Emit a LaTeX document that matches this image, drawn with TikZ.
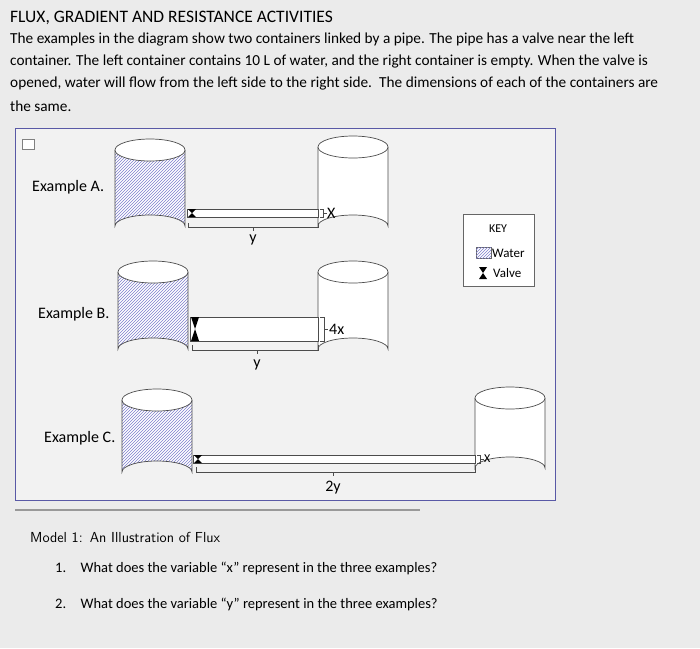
\documentclass[tikz,border=0pt]{standalone}
\usepackage{fontspec}
\setmainfont{Carlito}
\usetikzlibrary{patterns}
\tikzset{txt/.style={anchor=west, inner sep=0pt, font=\fontsize{15.3}{17}\selectfont},
  lbl/.style={inner sep=0pt, font=\fontsize{16}{18}\selectfont},
  water/.style={pattern=north east lines, pattern color=blue!45!gray!70},
  wall/.style={draw=black!70, line width=0.7pt}}
% tank: centre x, top y, bottom y, water?
\newcommand{\tank}[4]{
  \fill[white] (#1-35,#2) -- (#1-35,#3) arc[start angle=180,end angle=360,x radius=35,y radius=11] -- (#1+35,#2) -- cycle;
  \if#4w\fill[water] (#1-35,#2) -- (#1-35,#3) arc[start angle=180,end angle=360,x radius=35,y radius=11] -- (#1+35,#2) -- cycle;\fi
  \draw[wall] (#1-35,#2) -- (#1-35,#3) arc[start angle=180,end angle=360,x radius=35,y radius=11] -- (#1+35,#2);
  \draw[wall,fill=white] (#1,#2) ellipse[x radius=35,y radius=11];}
% valve: x, top y, bottom y
\newcommand{\valve}[3]{
  \fill (#1,#2) -- (#1+8,#2) -- (#1+4,{(#2+#3)/2}) -- cycle;
  \fill (#1,#3) -- (#1+8,#3) -- (#1+4,{(#2+#3)/2}) -- cycle;}
\begin{document}
\begin{tikzpicture}[x=1pt,y=-1pt]
\fill[black!8] (0,0) rectangle (700,648);
\useasboundingbox (0,0) rectangle (700,648);
\node[txt, font=\fontsize{17.5}{20}\selectfont] (title) at (10,18) {FLUX, GRADIENT AND RESISTANCE ACTIVITIES};
\node[txt] (p1) at (10,40) {The examples in the diagram show two containers linked by a pipe. The pipe has a valve near the left};
\node[txt] (p2) at (10,62) {container. The left container contains 10 L of water, and the right container is empty. When the valve is};
\node[txt] (p3) at (10,84) {opened, water will flow from the left side to the right side.\, The dimensions of each of the containers are};
\node[txt] (p4) at (10,106) {the same.};
% frame
\draw[draw=blue!30!gray, line width=1pt, fill=black!5] (15,128) rectangle (555,500);
\draw[black!50, fill=white] (22,139) rectangle (34,149);
\draw[black!40, line width=1.5pt] (15,510) -- (420,510);
% example A
\node[lbl, anchor=west] (labA) at (32,187) {Example A.};
\tank{150}{150}{226}{w}
\tank{353}{147}{226}{n}
\draw[wall, fill=white] (187,209) rectangle (318,217);
\valve{188}{209}{217}
\draw[wall] (188,223) -- (188,227) -- (318,227) -- (318,223) (253,227) -- (253,231);
\node[lbl] (yA) at (253,240) {y};
\draw[wall] (320,209) -- (323,209) -- (323,217) -- (320,217) (323,213) -- (327,213);
\node[lbl, anchor=west] (xA) at (327,213) {X};
% example B
\node[lbl, anchor=west] (labB) at (38,314) {Example B.};
\tank{153}{272}{349}{w}
\tank{353}{272}{349}{n}
\draw[wall, fill=white] (190,317) rectangle (318,341);
\valve{191}{317}{341}
\draw[wall] (192,345) -- (192,350) -- (318,350) -- (318,345) (257,350) -- (257,354);
\node[lbl] (yB) at (257,365) {y};
\draw[wall] (320,317) -- (324,317) -- (324,341) -- (320,341) (324,329) -- (328,329);
\node[lbl, anchor=west] (xB) at (329,329) {4x};
% example C
\node[lbl, anchor=west] (labC) at (44,438) {Example C.};
\tank{157}{400}{472}{w}
\tank{510}{398}{468}{n}
\draw[wall, fill=white] (193,455) rectangle (475,463);
\valve{194}{455}{463}
\draw[wall] (196,467) -- (196,472) -- (475,472) -- (475,467) (333,472) -- (333,476);
\node[lbl] (yC) at (333,488) {2y};
\draw[wall] (477,455) -- (480,455) -- (480,463) -- (477,463) (480,459) -- (484,459);
\node[lbl, anchor=west, font=\fontsize{12}{14}\selectfont] (xC) at (484,459) {X};
% key
\draw[black!60, fill=white] (463,214) rectangle (534,286);
\node[lbl, font=\fontsize{12}{14}\selectfont] (key) at (498,229) {KEY};
\draw[black!60, fill=white] (476,247) rectangle (491,258);
\fill[water] (476,247) rectangle (491,258);
\node[lbl, anchor=west, font=\fontsize{13}{14}\selectfont] (kw) at (492,253) {Water};
\valve{479}{267}{279}
\node[lbl, anchor=west, font=\fontsize{13}{14}\selectfont] (kv) at (493,273) {Valve};
% questions
\node[txt, font=\fontsize{14.5}{16}\sffamily\selectfont] (model) at (30,537) {Model 1:\ \,An Illustration of Flux};
\node[txt, font=\fontsize{14.5}{16}\selectfont] (q1) at (55,568) {1.\quad What does the variable ``x'' represent in the three examples?};
\node[txt, font=\fontsize{14.5}{16}\selectfont] (q2) at (55,604) {2.\quad What does the variable ``y'' represent in the three examples?};
\end{tikzpicture}
\end{document}
